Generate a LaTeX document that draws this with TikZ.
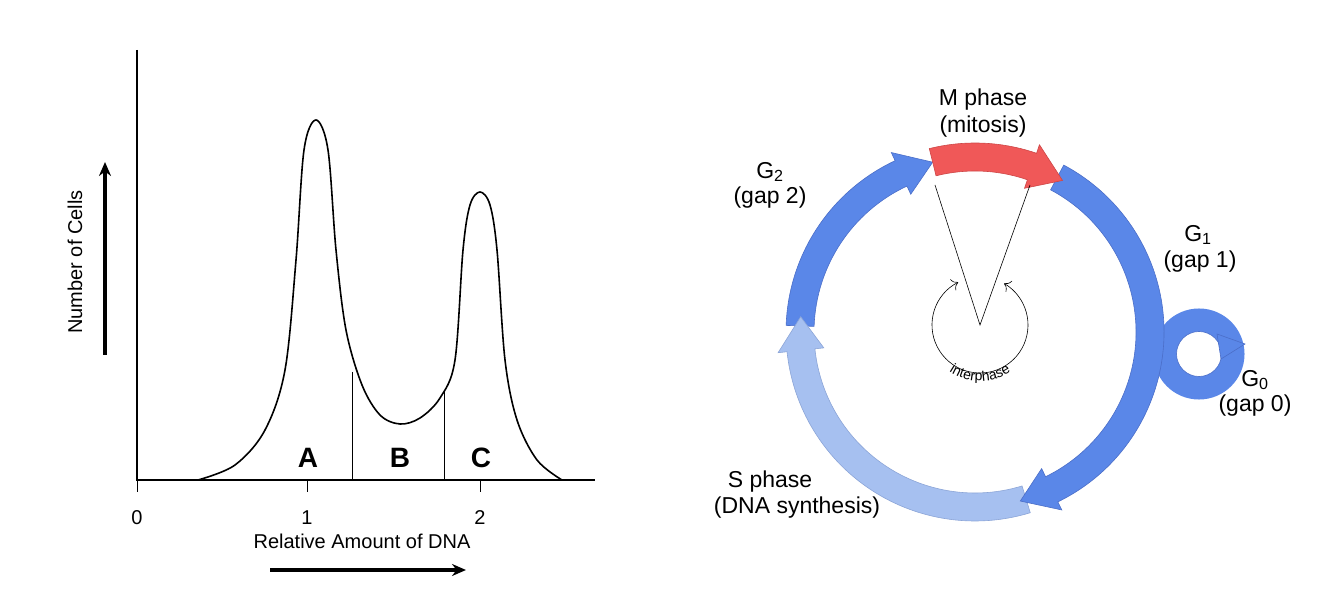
\documentclass[tikz,border=0pt]{standalone}
\usepackage{fontspec}
\setmainfont{Liberation Sans}
\usetikzlibrary{arrows.meta,decorations.text,calc}
\definecolor{gblue}{RGB}{90,135,232}
\definecolor{gedge}{RGB}{75,110,200}
\definecolor{mred}{RGB}{240,88,88}
\definecolor{redge}{RGB}{205,70,70}
\definecolor{slight}{RGB}{166,192,240}
\definecolor{sedge}{RGB}{140,165,215}
\tikzset{
  axis/.style={line width=2.6pt},
  thin/.style={line width=0.7pt},
  lbl/.style={font=\fontsize{20}{22}\selectfont, inner sep=0pt},
  rlbl/.style={font=\fontsize{23}{25}\selectfont, inner sep=0pt},
  big/.style={font=\fontsize{28}{30}\selectfont\bfseries, inner sep=0pt},
  fatarrow/.style={line width=4pt,-{Stealth[length=14pt,width=12pt]}}
}
\newcommand\cycarr[5]{%
 \filldraw[fill=#1,draw=#5,line width=0.6pt] (#2:161pt) arc[start angle=#2,end angle={#3+#4},radius=161pt] -- ({#3+#4}:152pt) -- (#3:175pt) -- ({#3+#4}:198pt) -- ({#3+#4}:189pt) arc[start angle={#3+#4},end angle=#2,radius=189pt] -- cycle;}
\begin{document}
\begin{tikzpicture}[x=1pt,y=1pt]
\useasboundingbox (0,0) rectangle (1344,592);
% ---------- left plot ----------
\coordinate (o) at (137,112);
\coordinate (ytop) at (137,542);
\coordinate (xend) at (595,112);
\draw[axis] (ytop) -- (o) -- (xend);
\foreach \x/\t in {137/0,307/1,480/2}{
  \draw[thin] (\x,112) -- (\x,100);
  \node[lbl] (t\t) at (\x,74) {\t};
}
\node[lbl] (xl) at (362,51) {Relative Amount of DNA};
\coordinate (xa1) at (270,22); \coordinate (xa2) at (466,22);
\draw[fatarrow] (xa1) -- (xa2);
\coordinate (ya1) at (105,237); \coordinate (ya2) at (105,430);
\draw[fatarrow] (ya1) -- (ya2);
\node[lbl,rotate=90] (yl) at (75,330) {Number of Cells};
\draw[line width=1.6pt] plot[smooth,tension=0.55] coordinates {
 (198,112) (235,127) (265,162) (285,222) (296,332) (304,442) (316,472) (328,442) (336,342)
 (346,262) (362,207) (380,177) (400,168) (420,174) (440,194) (455,232) (463,342) (470,387)
 (480,400) (490,387) (497,342) (505,232) (517,172) (537,132) (562,112)};
\draw[thin] (352,220) -- (352,112);
\draw[thin] (444,201) -- (444,112);
\node[big] (A) at (308,134) {A};
\node[big] (B) at (400,134) {B};
\node[big] (C) at (481,134) {C};
% ---------- right cycle ----------
\begin{scope}[shift={(975,260)}]
 % G0 loop
 \draw[gblue,line width=23pt] (224,-22) circle[radius=34];
 \draw[gedge,line width=0.6pt] (224,-22) circle[radius=22.5];
 \fill[gblue,draw=gedge,line width=0.6pt] (242,-2) -- (270,-12) -- (246,-27) -- cycle;
 \cycarr{gblue}{178}{104}{11}{gedge}
 \cycarr{slight}{-73}{-185}{11}{sedge}
 \cycarr{gblue}{62}{-75}{11}{gedge}
 \cycarr{mred}{104}{60}{11}{redge}
\end{scope}
\coordinate (v) at (980,267);
\coordinate (vl) at (935,407);
\coordinate (vr) at (1030,407);
\draw[line width=0.6pt] (vl) -- (v) -- (vr);
\draw[line width=0.6pt,{To[length=6pt]}-{To[length=6pt]}] ($(v)+(117:48)$) arc[start angle=117,end angle=420,radius=48];
\path[decorate,decoration={text along path,text={|\fontsize{14}{14}\selectfont|interphase},text align=center}]
  ($(v)+(232:56)$) arc[start angle=232,end angle=308,radius=56];
\node[rlbl] (m1) at (983,492) {M phase};
\node[rlbl] (m2) at (983,465) {(mitosis)};
\node[rlbl] (g2) at (770,420) {G\textsubscript{2}};
\node[rlbl] (g2b) at (770,394) {(gap 2)};
\node[rlbl] (g1) at (1198,357) {G\textsubscript{1}};
\node[rlbl] (g1b) at (1200,330) {(gap 1)};
\node[rlbl] (g0) at (1255,212) {G\textsubscript{0}};
\node[rlbl] (g0b) at (1255,186) {(gap 0)};
\node[rlbl] (s1) at (770,110) {S phase};
\node[rlbl] (s2) at (797,84) {(DNA synthesis)};
\end{tikzpicture}
\end{document}
